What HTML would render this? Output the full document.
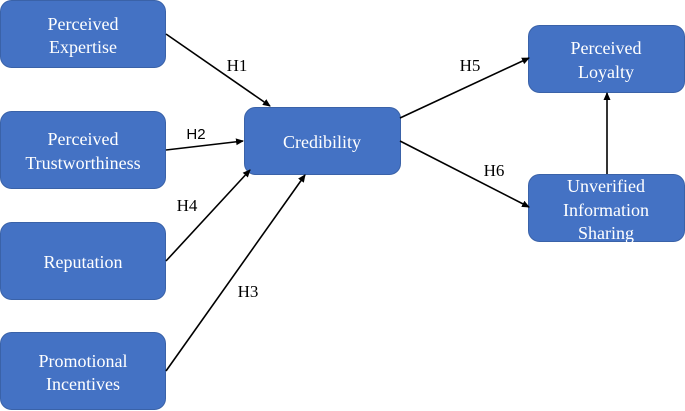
<!DOCTYPE html>
<html><head><style>body{margin:0;background:#fff}svg{display:block}</style></head>
<body>
<svg width="685" height="411" viewBox="0 0 685 411" xmlns="http://www.w3.org/2000/svg">
<defs><marker id="a" markerWidth="8" markerHeight="8" refX="7" refY="4" orient="auto" markerUnits="userSpaceOnUse"><path d="M0,0.5 L8,4 L0,7.5 Z" fill="#000"/></marker></defs>
<g fill="#4472C4" stroke="#3A62A8" stroke-width="1">
<rect x="0.5" y="0.5" width="165" height="67" rx="11"/>
<rect x="0.5" y="111.5" width="165" height="77" rx="11"/>
<rect x="0.5" y="222.5" width="165" height="77" rx="11"/>
<rect x="0.5" y="332.5" width="165" height="77" rx="11"/>
<rect x="244.5" y="107.5" width="156" height="67" rx="11"/>
<rect x="528.5" y="25.5" width="156" height="67" rx="11"/>
<rect x="528.5" y="174.5" width="156" height="67" rx="11"/>
</g>
<g stroke="#000" stroke-width="1.6" marker-end="url(#a)">
<line x1="166" y1="34" x2="270" y2="106"/>
<line x1="166" y1="150" x2="243" y2="141"/>
<line x1="166" y1="261" x2="250" y2="170"/>
<line x1="166" y1="371" x2="305" y2="175"/>
<line x1="400" y1="118" x2="529" y2="58"/>
<line x1="400" y1="141" x2="529" y2="207"/>
<line x1="607" y1="174" x2="607" y2="93"/>
</g>
<g font-family="Liberation Serif, serif" font-size="18" fill="#fff" text-anchor="middle">
<text x="83" y="30">Perceived</text><text x="83" y="53">Expertise</text>
<text x="83" y="145">Perceived</text><text x="83" y="169">Trustworthiness</text>
<text x="83" y="268">Reputation</text>
<text x="83" y="367">Promotional</text><text x="83" y="390">Incentives</text>
<text x="322" y="148">Credibility</text>
<text x="606" y="54">Perceived</text><text x="606" y="78">Loyalty</text>
<text x="606" y="192">Unverified</text><text x="606" y="216">Information</text><text x="606" y="239">Sharing</text>
</g>
<g font-family="Liberation Serif, serif" font-size="17" fill="#000" text-anchor="middle">
<text x="237" y="71">H1</text>
<text x="187" y="211">H4</text>
<text x="248" y="297">H3</text>
<text x="470" y="71">H5</text>
<text x="494" y="176">H6</text>
</g>
<text x="196" y="139" font-family="Liberation Sans, sans-serif" font-size="15" fill="#000" text-anchor="middle">H2</text>
</svg>
</body></html>
